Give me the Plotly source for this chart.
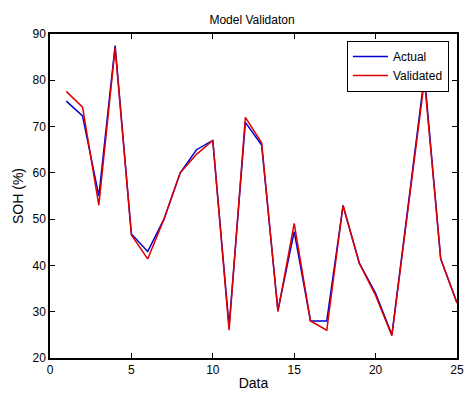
import plotly.graph_objects as go

data_idx = list(range(1, 26))
actual = [75.5, 72.3, 55.0, 87.5, 46.8, 43.0, 50.0, 60.0, 65.0, 67.0, 26.8, 70.9, 66.0,
          30.3, 47.3, 28.0, 28.0, 52.9, 40.5, 34.0, 25.0, 53.0, 81.0, 41.4, 31.9]
validated = [77.6, 74.2, 53.0, 87.0, 46.6, 41.4, 50.0, 60.0, 64.0, 67.0, 26.0, 72.0, 66.5,
             30.0, 49.1, 28.0, 26.0, 53.0, 40.5, 33.5, 24.8, 53.0, 80.0, 41.4, 31.9]
x_ticks = [0, 5, 10, 15, 20, 25]
y_ticks = [20, 30, 40, 50, 60, 70, 80, 90]

# page body has an 8px margin, so the figure is sized/offset to compensate
W, H = 458, 383
fig = go.Figure()
fig.add_trace(go.Scatter(x=data_idx, y=actual, mode="lines", name="Actual",
                         line=dict(color="#0000d0", width=1.5)))
fig.add_trace(go.Scatter(x=data_idx, y=validated, mode="lines", name="Validated",
                         line=dict(color="#dd0000", width=1.5)))

font = dict(family="Liberation Sans, Arial, sans-serif", size=12, color="black")
fig.update_layout(
    width=W, height=H,
    margin=dict(l=42, r=9, t=26, b=33, autoexpand=False),
    paper_bgcolor="white", plot_bgcolor="white",
    font=font,
    title=dict(text="Model Validaton", x=244 / W, xanchor="center",
               y=1 - 12 / H, yanchor="middle", font=dict(size=12)),
    showlegend=True,
    legend=dict(x=0.729, y=0.979, xanchor="left", yanchor="top",
                bordercolor="black", borderwidth=1.2, bgcolor="white",
                font=dict(size=12), tracegroupgap=0, itemwidth=35),
    xaxis=dict(range=[0, 25], tickvals=x_ticks, ticks="inside", ticklen=5,
               showgrid=False, zeroline=False, showline=True, linecolor="black",
               linewidth=1.5, mirror="ticks", tickcolor="black",
               title=dict(text="Data", standoff=4)),
    yaxis=dict(range=[20, 90], tickvals=y_ticks, ticks="inside", ticklen=5,
               showgrid=False, zeroline=False, showline=True, linecolor="black",
               linewidth=1.5, mirror="ticks", tickcolor="black",
               title=dict(text="SOH (%)", standoff=6)),
)
fig.write_html("out.html")
